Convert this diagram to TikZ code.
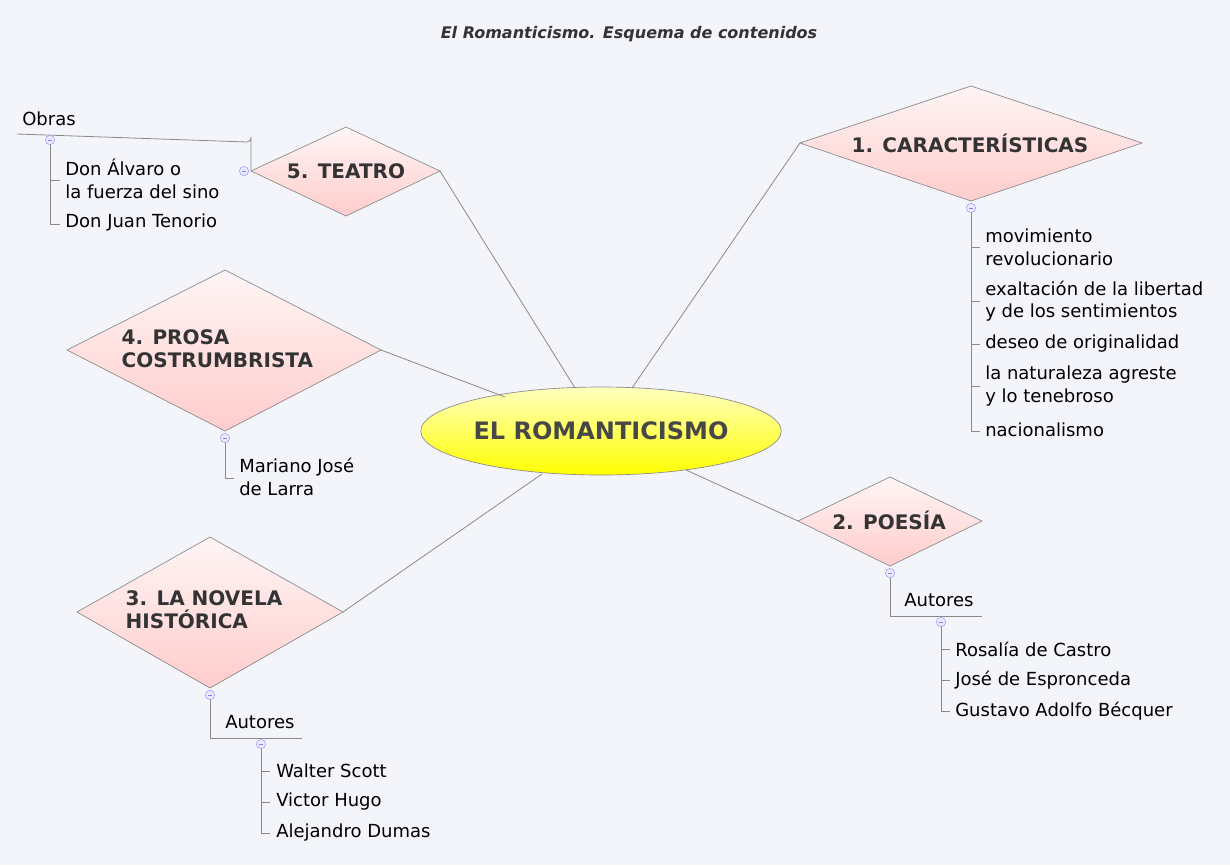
\documentclass[tikz,border=0pt]{standalone}
\usepackage{fontspec}
\setmainfont{DejaVu Sans}
\usetikzlibrary{shapes.geometric}
\definecolor{bg}{HTML}{F4F5FA}
\definecolor{ln}{HTML}{8A8A8A}
\definecolor{tx}{HTML}{333333}
\begin{document}
\begin{tikzpicture}[x=0.75pt,y=-0.75pt,
  conn/.style={draw=ln,line width=0.6pt},
  dia/.style={diamond,draw=ln,line width=0.5pt,top color=pink!20!white,bottom color=pink!90!white,inner sep=0pt},
  dlab/.style={font=\fontsize{15}{17}\selectfont\bfseries,text=tx,align=left},
  item/.style={font=\fontsize{13.5}{17}\selectfont,text=black,anchor=west,align=left,inner sep=0pt},
  knob/.style={circle,draw=blue!40,fill=blue!8,minimum size=7pt,inner sep=0pt,line width=0.4pt,
     path picture={\draw[blue!50,line width=0.4pt] ([xshift=-1.6pt]path picture bounding box.center)--([xshift=1.6pt]path picture bounding box.center);}}]
\fill[bg] (0,0) rectangle (1230,865);
\node[font=\fontsize{12}{14}\selectfont\bfseries\itshape,text=tx] (title) at (629,34) {El Romanticismo. Esquema de contenidos};
% diamonds (drawn as polygons)
\newcommand\dmd[5]{\shade[top color=pink!15!white,bottom color=pink!85!white,draw=ln,line width=0.5pt] (#2,#5)--(#3,#4)--(#1,#5) -- cycle;}
\shade[top color=pink!15!white,bottom color=pink!80!white,draw=ln,line width=0.5pt] (800,143)--(971,86)--(1142,143)--(971,201)--cycle;
\shade[top color=pink!15!white,bottom color=pink!80!white,draw=ln,line width=0.5pt] (798,521)--(890,477)--(982,521)--(890,566)--cycle;
\shade[top color=pink!15!white,bottom color=pink!80!white,draw=ln,line width=0.5pt] (77,612)--(210,537)--(343,612)--(210,688)--cycle;
\shade[top color=pink!15!white,bottom color=pink!80!white,draw=ln,line width=0.5pt] (67,350)--(225,270)--(381,350)--(225,431)--cycle;
\shade[top color=pink!15!white,bottom color=pink!80!white,draw=ln,line width=0.5pt] (251,171)--(346,127)--(440,171)--(346,216)--cycle;
\coordinate (d1) at (800,143); \coordinate (d2) at (798,521); \coordinate (d3) at (343,612);
\coordinate (d4) at (381,350); \coordinate (d5) at (440,171);
\node[dlab] (l1) at (970,143) {1. CARACTERÍSTICAS};
\node[dlab] (l2) at (889,520) {2. POESÍA};
\node[dlab,anchor=west] (l3) at (121,610) {3. LA NOVELA\\HISTÓRICA};
\node[dlab,anchor=west] (l4) at (117,349) {4. PROSA\\COSTRUMBRISTA};
\node[dlab] (l5) at (346,171) {5. TEATRO};
% centre
\node[ellipse,draw=ln,line width=0.5pt,top color=yellow!25!white,bottom color=yellow,minimum width=318\pgflinewidth,inner sep=0pt,minimum width=238.5pt,minimum height=66pt,font=\fontsize{18}{20}\selectfont\bfseries,text=black!72] (c) at (601,431) {EL ROMANTICISMO};
\coordinate (c1) at (575,388); \coordinate (c2) at (632,388); \coordinate (c3) at (686,470);
\coordinate (c4) at (542,474); \coordinate (c5) at (505,397);
\draw[conn] (c1)--(d5); \draw[conn] (c2)--(d1); \draw[conn] (c3)--(d2); \draw[conn] (c4)--(d3); \draw[conn] (c5)--(d4);
% 1 caracteristicas
\draw[conn] (971,212)--(971,431)--(980,431);
\foreach \y in {247,301,344,386} \draw[conn] (971,\y)--(980,\y);
\node[knob] (k1) at (971,208) {};
\node[item] at (985,247) {movimiento\\revolucionario};
\node[item] at (985,301) {exaltación de la libertad\\y de los sentimientos};
\node[item] at (985,344) {deseo de originalidad};
\node[item] at (985,386) {la naturaleza agreste\\y lo tenebroso};
\node[item] at (985,430) {nacionalismo};
% 2 poesia
\draw[conn] (890,577)--(890,616)--(982,616);
\node[knob] (k2) at (890,573) {};
\node[item] at (904,600) {Autores};
\draw[conn] (941,626)--(941,711)--(950,711);
\foreach \y in {649,680} \draw[conn] (941,\y)--(950,\y);
\node[knob] (k2b) at (941,622) {};
\node[item] at (955,649) {Rosalía de Castro};
\node[item] at (955,680) {José de Espronceda};
\node[item] at (955,711) {Gustavo Adolfo Bécquer};
% 3 novela
\draw[conn] (210,699)--(210,738)--(302,738);
\node[knob] (k3) at (210,695) {};
\node[item] at (225,722) {Autores};
\draw[conn] (261,748)--(261,833)--(270,833);
\foreach \y in {771,802} \draw[conn] (261,\y)--(270,\y);
\node[knob] (k3b) at (261,744) {};
\node[item] at (276,771) {Walter Scott};
\node[item] at (276,802) {Victor Hugo};
\node[item] at (276,833) {Alejandro Dumas};
% 4 prosa
\draw[conn] (225,442)--(225,478)--(234,478);
\node[knob] (k4) at (225,438) {};
\node[item] at (239,477) {Mariano José\\de Larra};
% 5 teatro
\draw[conn] (251,171)--(251,138) arc[start angle=0,end angle=90,radius=4]--(17,134);
\node[knob] (k5) at (244,171) {};
\node[item] at (22,119) {Obras};
\draw[conn] (50,144)--(50,224)--(60,224);
\draw[conn] (50,180)--(60,180);
\node[knob] (k5b) at (50,140) {};
\node[item] at (65,179) {Don Álvaro o\\la fuerza del sino};
\node[item] at (65,222) {Don Juan Tenorio};
\end{tikzpicture}
\end{document}
